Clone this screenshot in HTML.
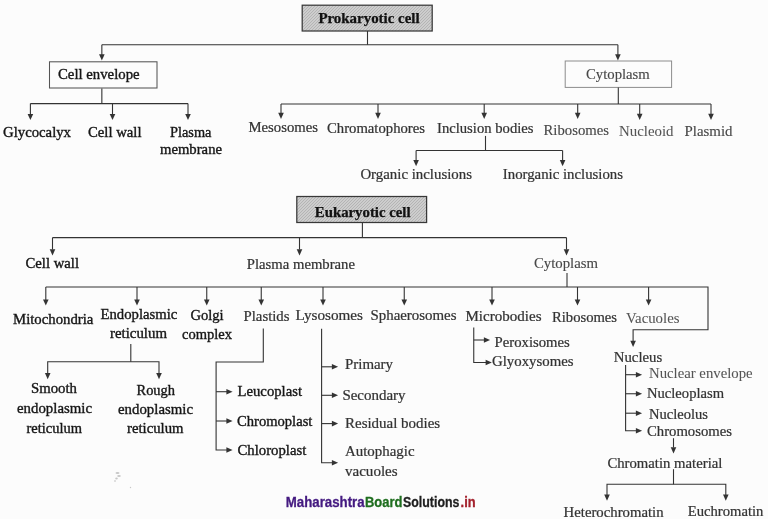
<!DOCTYPE html>
<html><head><meta charset="utf-8"><title>Cell structure</title>
<style>
html,body{margin:0;padding:0;background:#fcfcfc;}
body{width:768px;height:519px;overflow:hidden;}
svg{display:block;filter:blur(0.45px);}
text{font-family:"Liberation Serif",serif;}
.wm{font-family:"Liberation Sans",sans-serif;font-weight:bold;}
</style></head><body>
<svg width="768" height="519" viewBox="0 0 768 519">
<defs>
<pattern id="hatch" width="3" height="3" patternUnits="userSpaceOnUse">
<rect width="3" height="3" fill="#cdcdcd"/>
<path d="M0 3L3 0" stroke="#adadad" stroke-width="0.8"/>
</pattern>
</defs>
<rect width="768" height="519" fill="#fcfcfc"/>

<rect x="302.2" y="5.2" width="130" height="25.8" fill="url(#hatch)" stroke="#383838" stroke-width="1.25"/>
<rect x="296.8" y="196.5" width="129.8" height="26" fill="url(#hatch)" stroke="#383838" stroke-width="1.25"/>
<rect x="49.5" y="61.8" width="107.5" height="26.2" fill="none" stroke="#555" stroke-width="1.05"/>
<rect x="565.2" y="61" width="106.4" height="26.4" fill="none" stroke="#8c8c8c" stroke-width="1"/>
<g fill="none" stroke="#333333" stroke-width="1.1">
<polyline points="367.50,31.00 367.50,44.80"/>
<polyline points="101.85,44.80 617.90,44.80"/>
<polyline points="101.85,44.80 101.85,55.00"/>
<polyline points="617.90,44.80 617.90,55.00"/>
<polyline points="101.85,88.50 101.85,103.60"/>
<polyline points="30.40,103.60 188.00,103.60"/>
<polyline points="30.40,103.60 30.40,114.00"/>
<polyline points="112.50,103.60 112.50,114.00"/>
<polyline points="188.00,103.60 188.00,114.00"/>
<polyline points="618.30,87.40 618.30,104.00"/>
<polyline points="281.00,104.00 711.00,104.00"/>
<polyline points="281.00,104.00 281.00,113.00"/>
<polyline points="378.00,104.00 378.00,113.00"/>
<polyline points="484.20,104.00 484.20,113.00"/>
<polyline points="577.70,104.00 577.70,113.00"/>
<polyline points="639.70,104.00 639.70,114.00"/>
<polyline points="711.00,104.00 711.00,114.00"/>
<polyline points="485.50,135.90 485.50,150.50"/>
<polyline points="416.10,150.50 562.60,150.50"/>
<polyline points="416.10,150.50 416.10,160.00"/>
<polyline points="562.60,150.50 562.60,160.00"/>
<polyline points="362.40,222.50 362.40,237.60"/>
<polyline points="52.50,237.60 566.50,237.60"/>
<polyline points="52.50,237.60 52.50,249.50"/>
<polyline points="299.50,237.60 299.50,249.50"/>
<polyline points="566.50,237.60 566.50,249.50"/>
<polyline points="567.00,273.00 567.00,287.00"/>
<polyline points="45.80,287.00 708.00,287.00 708.00,329.70 633.10,329.70 633.10,341.00"/>
<polyline points="45.80,287.00 45.80,300.00"/>
<polyline points="137.00,287.00 137.00,300.00"/>
<polyline points="206.75,287.00 206.75,300.00"/>
<polyline points="261.25,287.00 261.25,300.00"/>
<polyline points="323.00,287.00 323.00,300.00"/>
<polyline points="404.25,287.00 404.25,300.00"/>
<polyline points="492.00,287.00 492.00,300.00"/>
<polyline points="577.50,287.00 577.50,300.00"/>
<polyline points="648.60,287.00 648.60,300.00"/>
<polyline points="130.80,344.10 130.80,361.80"/>
<polyline points="47.70,373.50 47.70,361.80 159.00,361.80 159.00,373.50"/>
<polyline points="263.30,328.50 263.30,362.00 216.10,362.00 216.10,450.00 227.00,450.00"/>
<polyline points="216.10,391.70 227.00,391.70"/>
<polyline points="216.10,421.00 227.00,421.00"/>
<polyline points="321.60,328.70 321.60,462.70 332.50,462.70"/>
<polyline points="321.60,366.80 332.50,366.80"/>
<polyline points="321.60,395.30 332.50,395.30"/>
<polyline points="321.60,423.60 332.50,423.60"/>
<polyline points="473.75,327.50 473.75,362.50 486.00,362.50"/>
<polyline points="473.75,340.00 484.50,340.00"/>
<polyline points="625.60,365.00 625.60,430.70 636.50,430.70"/>
<polyline points="625.60,374.70 636.50,374.70"/>
<polyline points="625.60,393.75 636.50,393.75"/>
<polyline points="625.60,413.20 636.50,413.20"/>
<polyline points="673.50,438.20 673.50,447.50"/>
<polyline points="673.50,469.20 673.50,484.30"/>
<polyline points="607.00,495.00 607.00,484.30 725.80,484.30 725.80,495.00"/>
</g>
<g fill="#333333" stroke="none">
<path d="M99.05 54.20L104.65 54.20L101.85 60.40Z"/>
<path d="M615.10 54.20L620.70 54.20L617.90 60.40Z"/>
<path d="M27.60 113.90L33.20 113.90L30.40 120.10Z"/>
<path d="M109.70 113.90L115.30 113.90L112.50 120.10Z"/>
<path d="M185.20 113.90L190.80 113.90L188.00 120.10Z"/>
<path d="M278.20 112.70L283.80 112.70L281.00 118.90Z"/>
<path d="M375.20 112.70L380.80 112.70L378.00 118.90Z"/>
<path d="M481.40 112.70L487.00 112.70L484.20 118.90Z"/>
<path d="M574.90 112.70L580.50 112.70L577.70 118.90Z"/>
<path d="M636.90 113.70L642.50 113.70L639.70 119.90Z"/>
<path d="M708.20 113.70L713.80 113.70L711.00 119.90Z"/>
<path d="M413.30 160.00L418.90 160.00L416.10 166.20Z"/>
<path d="M559.80 160.00L565.40 160.00L562.60 166.20Z"/>
<path d="M49.70 249.30L55.30 249.30L52.50 255.50Z"/>
<path d="M296.70 249.30L302.30 249.30L299.50 255.50Z"/>
<path d="M563.70 249.30L569.30 249.30L566.50 255.50Z"/>
<path d="M43.00 299.40L48.60 299.40L45.80 305.60Z"/>
<path d="M134.20 299.40L139.80 299.40L137.00 305.60Z"/>
<path d="M203.95 299.40L209.55 299.40L206.75 305.60Z"/>
<path d="M258.45 299.40L264.05 299.40L261.25 305.60Z"/>
<path d="M320.20 299.40L325.80 299.40L323.00 305.60Z"/>
<path d="M401.45 299.40L407.05 299.40L404.25 305.60Z"/>
<path d="M489.20 299.40L494.80 299.40L492.00 305.60Z"/>
<path d="M574.70 299.40L580.30 299.40L577.50 305.60Z"/>
<path d="M645.80 299.40L651.40 299.40L648.60 305.60Z"/>
<path d="M630.30 340.80L635.90 340.80L633.10 347.00Z"/>
<path d="M44.90 373.10L50.50 373.10L47.70 379.30Z"/>
<path d="M156.20 373.10L161.80 373.10L159.00 379.30Z"/>
<path d="M226.40 388.90L226.40 394.50L232.60 391.70Z"/>
<path d="M226.40 418.20L226.40 423.80L232.60 421.00Z"/>
<path d="M226.40 447.20L226.40 452.80L232.60 450.00Z"/>
<path d="M331.90 364.00L331.90 369.60L338.10 366.80Z"/>
<path d="M331.90 392.50L331.90 398.10L338.10 395.30Z"/>
<path d="M331.90 420.80L331.90 426.40L338.10 423.60Z"/>
<path d="M331.90 459.90L331.90 465.50L338.10 462.70Z"/>
<path d="M483.90 337.20L483.90 342.80L490.10 340.00Z"/>
<path d="M485.65 359.70L485.65 365.30L491.85 362.50Z"/>
<path d="M635.90 371.90L635.90 377.50L642.10 374.70Z"/>
<path d="M635.90 390.95L635.90 396.55L642.10 393.75Z"/>
<path d="M635.90 410.40L635.90 416.00L642.10 413.20Z"/>
<path d="M635.90 427.90L635.90 433.50L642.10 430.70Z"/>
<path d="M670.70 447.20L676.30 447.20L673.50 453.40Z"/>
<path d="M604.20 494.60L609.80 494.60L607.00 500.80Z"/>
<path d="M723.00 494.60L728.60 494.60L725.80 500.80Z"/>
</g>
<text x="318.40" y="22.80" font-size="14" fill="#111" font-weight="bold" textLength="101.20" lengthAdjust="spacingAndGlyphs" stroke="#111" stroke-width="0.25">Prokaryotic cell</text>
<text x="58.00" y="78.90" font-size="14" fill="#161616" font-weight="normal" textLength="81.60" lengthAdjust="spacingAndGlyphs" stroke="#161616" stroke-width="0.35">Cell envelope</text>
<text x="586.00" y="78.80" font-size="14" fill="#474747" font-weight="normal" textLength="63.80" lengthAdjust="spacingAndGlyphs" stroke="#474747" stroke-width="0.12">Cytoplasm</text>
<text x="3.00" y="136.75" font-size="14" fill="#161616" font-weight="normal" textLength="68.00" lengthAdjust="spacingAndGlyphs" stroke="#161616" stroke-width="0.35">Glycocalyx</text>
<text x="88.00" y="136.75" font-size="14" fill="#161616" font-weight="normal" textLength="53.50" lengthAdjust="spacingAndGlyphs" stroke="#161616" stroke-width="0.35">Cell wall</text>
<text x="170.00" y="136.75" font-size="14" fill="#161616" font-weight="normal" textLength="41.50" lengthAdjust="spacingAndGlyphs" stroke="#161616" stroke-width="0.35">Plasma</text>
<text x="160.00" y="153.70" font-size="14" fill="#161616" font-weight="normal" textLength="62.00" lengthAdjust="spacingAndGlyphs" stroke="#161616" stroke-width="0.35">membrane</text>
<text x="248.50" y="132.00" font-size="14" fill="#333" font-weight="normal" textLength="69.50" lengthAdjust="spacingAndGlyphs" stroke="#333" stroke-width="0.22">Mesosomes</text>
<text x="327.00" y="132.50" font-size="14" fill="#333" font-weight="normal" textLength="98.00" lengthAdjust="spacingAndGlyphs" stroke="#333" stroke-width="0.22">Chromatophores</text>
<text x="437.00" y="133.00" font-size="14" fill="#333" font-weight="normal" textLength="96.50" lengthAdjust="spacingAndGlyphs" stroke="#333" stroke-width="0.22">Inclusion bodies</text>
<text x="543.50" y="135.30" font-size="14" fill="#474747" font-weight="normal" textLength="65.50" lengthAdjust="spacingAndGlyphs" stroke="#474747" stroke-width="0.12">Ribosomes</text>
<text x="619.00" y="135.70" font-size="14" fill="#545454" font-weight="normal" textLength="54.50" lengthAdjust="spacingAndGlyphs" stroke="#545454" stroke-width="0.05">Nucleoid</text>
<text x="684.50" y="135.70" font-size="14" fill="#474747" font-weight="normal" textLength="48.00" lengthAdjust="spacingAndGlyphs" stroke="#474747" stroke-width="0.12">Plasmid</text>
<text x="360.40" y="178.50" font-size="14" fill="#333" font-weight="normal" textLength="111.60" lengthAdjust="spacingAndGlyphs" stroke="#333" stroke-width="0.22">Organic inclusions</text>
<text x="502.80" y="179.10" font-size="14" fill="#333" font-weight="normal" textLength="120.20" lengthAdjust="spacingAndGlyphs" stroke="#333" stroke-width="0.22">Inorganic inclusions</text>
<text x="314.80" y="216.90" font-size="14" fill="#111" font-weight="bold" textLength="95.80" lengthAdjust="spacingAndGlyphs" stroke="#111" stroke-width="0.25">Eukaryotic cell</text>
<text x="25.50" y="268.00" font-size="14" fill="#161616" font-weight="normal" textLength="53.50" lengthAdjust="spacingAndGlyphs" stroke="#161616" stroke-width="0.35">Cell wall</text>
<text x="246.80" y="268.75" font-size="14" fill="#333" font-weight="normal" textLength="108.20" lengthAdjust="spacingAndGlyphs" stroke="#333" stroke-width="0.22">Plasma membrane</text>
<text x="534.00" y="268.00" font-size="14" fill="#474747" font-weight="normal" textLength="64.00" lengthAdjust="spacingAndGlyphs" stroke="#474747" stroke-width="0.12">Cytoplasm</text>
<text x="13.00" y="323.90" font-size="14" fill="#161616" font-weight="normal" textLength="80.40" lengthAdjust="spacingAndGlyphs" stroke="#161616" stroke-width="0.35">Mitochondria</text>
<text x="100.50" y="318.75" font-size="14" fill="#161616" font-weight="normal" textLength="76.90" lengthAdjust="spacingAndGlyphs" stroke="#161616" stroke-width="0.35">Endoplasmic</text>
<text x="110.00" y="338.00" font-size="14" fill="#161616" font-weight="normal" textLength="57.00" lengthAdjust="spacingAndGlyphs" stroke="#161616" stroke-width="0.35">reticulum</text>
<text x="190.40" y="319.60" font-size="14" fill="#161616" font-weight="normal" textLength="33.20" lengthAdjust="spacingAndGlyphs" stroke="#161616" stroke-width="0.35">Golgi</text>
<text x="182.00" y="338.75" font-size="14" fill="#161616" font-weight="normal" textLength="50.00" lengthAdjust="spacingAndGlyphs" stroke="#161616" stroke-width="0.35">complex</text>
<text x="243.50" y="320.50" font-size="14" fill="#333" font-weight="normal" textLength="46.00" lengthAdjust="spacingAndGlyphs" stroke="#333" stroke-width="0.22">Plastids</text>
<text x="295.50" y="320.00" font-size="14" fill="#333" font-weight="normal" textLength="67.50" lengthAdjust="spacingAndGlyphs" stroke="#333" stroke-width="0.22">Lysosomes</text>
<text x="370.50" y="319.50" font-size="14" fill="#333" font-weight="normal" textLength="86.00" lengthAdjust="spacingAndGlyphs" stroke="#333" stroke-width="0.22">Sphaerosomes</text>
<text x="465.50" y="320.75" font-size="14" fill="#333" font-weight="normal" textLength="76.00" lengthAdjust="spacingAndGlyphs" stroke="#333" stroke-width="0.22">Microbodies</text>
<text x="552.00" y="322.00" font-size="14" fill="#333" font-weight="normal" textLength="65.00" lengthAdjust="spacingAndGlyphs" stroke="#333" stroke-width="0.22">Ribosomes</text>
<text x="626.00" y="323.00" font-size="14" fill="#545454" font-weight="normal" textLength="53.50" lengthAdjust="spacingAndGlyphs" stroke="#545454" stroke-width="0.05">Vacuoles</text>
<text x="31.00" y="393.25" font-size="14" fill="#161616" font-weight="normal" textLength="46.00" lengthAdjust="spacingAndGlyphs" stroke="#161616" stroke-width="0.35">Smooth</text>
<text x="17.00" y="412.50" font-size="14" fill="#161616" font-weight="normal" textLength="75.00" lengthAdjust="spacingAndGlyphs" stroke="#161616" stroke-width="0.35">endoplasmic</text>
<text x="26.50" y="432.50" font-size="14" fill="#161616" font-weight="normal" textLength="55.50" lengthAdjust="spacingAndGlyphs" stroke="#161616" stroke-width="0.35">reticulum</text>
<text x="136.50" y="394.50" font-size="14" fill="#161616" font-weight="normal" textLength="38.50" lengthAdjust="spacingAndGlyphs" stroke="#161616" stroke-width="0.35">Rough</text>
<text x="118.00" y="413.50" font-size="14" fill="#161616" font-weight="normal" textLength="75.00" lengthAdjust="spacingAndGlyphs" stroke="#161616" stroke-width="0.35">endoplasmic</text>
<text x="127.00" y="433.00" font-size="14" fill="#161616" font-weight="normal" textLength="56.50" lengthAdjust="spacingAndGlyphs" stroke="#161616" stroke-width="0.35">reticulum</text>
<text x="237.50" y="396.10" font-size="14" fill="#161616" font-weight="normal" textLength="64.50" lengthAdjust="spacingAndGlyphs" stroke="#161616" stroke-width="0.35">Leucoplast</text>
<text x="237.00" y="425.80" font-size="14" fill="#161616" font-weight="normal" textLength="75.40" lengthAdjust="spacingAndGlyphs" stroke="#161616" stroke-width="0.35">Chromoplast</text>
<text x="237.40" y="454.60" font-size="14" fill="#161616" font-weight="normal" textLength="69.00" lengthAdjust="spacingAndGlyphs" stroke="#161616" stroke-width="0.35">Chloroplast</text>
<text x="345.00" y="369.40" font-size="14" fill="#333" font-weight="normal" textLength="48.00" lengthAdjust="spacingAndGlyphs" stroke="#333" stroke-width="0.22">Primary</text>
<text x="342.40" y="400.10" font-size="14" fill="#333" font-weight="normal" textLength="63.20" lengthAdjust="spacingAndGlyphs" stroke="#333" stroke-width="0.22">Secondary</text>
<text x="345.00" y="427.80" font-size="14" fill="#333" font-weight="normal" textLength="95.20" lengthAdjust="spacingAndGlyphs" stroke="#333" stroke-width="0.22">Residual bodies</text>
<text x="345.00" y="456.20" font-size="14" fill="#333" font-weight="normal" textLength="69.60" lengthAdjust="spacingAndGlyphs" stroke="#333" stroke-width="0.22">Autophagic</text>
<text x="345.00" y="475.60" font-size="14" fill="#333" font-weight="normal" textLength="52.60" lengthAdjust="spacingAndGlyphs" stroke="#333" stroke-width="0.22">vacuoles</text>
<text x="494.60" y="347.10" font-size="14" fill="#333" font-weight="normal" textLength="75.20" lengthAdjust="spacingAndGlyphs" stroke="#333" stroke-width="0.22">Peroxisomes</text>
<text x="492.00" y="366.25" font-size="14" fill="#333" font-weight="normal" textLength="81.50" lengthAdjust="spacingAndGlyphs" stroke="#333" stroke-width="0.22">Glyoxysomes</text>
<text x="613.80" y="361.70" font-size="14" fill="#333" font-weight="normal" textLength="48.40" lengthAdjust="spacingAndGlyphs" stroke="#333" stroke-width="0.22">Nucleus</text>
<text x="649.00" y="378.00" font-size="14" fill="#545454" font-weight="normal" textLength="103.60" lengthAdjust="spacingAndGlyphs" stroke="#545454" stroke-width="0.05">Nuclear envelope</text>
<text x="647.00" y="397.80" font-size="14" fill="#333" font-weight="normal" textLength="77.00" lengthAdjust="spacingAndGlyphs" stroke="#333" stroke-width="0.22">Nucleoplasm</text>
<text x="649.00" y="418.80" font-size="14" fill="#333" font-weight="normal" textLength="59.00" lengthAdjust="spacingAndGlyphs" stroke="#333" stroke-width="0.22">Nucleolus</text>
<text x="647.00" y="436.30" font-size="14" fill="#333" font-weight="normal" textLength="85.00" lengthAdjust="spacingAndGlyphs" stroke="#333" stroke-width="0.22">Chromosomes</text>
<text x="607.40" y="467.50" font-size="14" fill="#333" font-weight="normal" textLength="115.00" lengthAdjust="spacingAndGlyphs" stroke="#333" stroke-width="0.22">Chromatin material</text>
<text x="563.60" y="516.50" font-size="14" fill="#333" font-weight="normal" textLength="100.00" lengthAdjust="spacingAndGlyphs" stroke="#333" stroke-width="0.22">Heterochromatin</text>
<text x="687.80" y="515.80" font-size="14" fill="#333" font-weight="normal" textLength="75.60" lengthAdjust="spacingAndGlyphs" stroke="#333" stroke-width="0.22">Euchromatin</text>
<text class="wm" x="285.80" y="506.9" font-size="14.5" fill="#441a80" stroke="#441a80" stroke-width="0.3" textLength="78.80" lengthAdjust="spacingAndGlyphs">Maharashtra</text>
<text class="wm" x="365.00" y="506.9" font-size="14.5" fill="#1f6e1f" stroke="#1f6e1f" stroke-width="0.3" textLength="37.40" lengthAdjust="spacingAndGlyphs">Board</text>
<text class="wm" x="403.00" y="506.9" font-size="14.5" fill="#1e1e1e" stroke="#1e1e1e" stroke-width="0.3" textLength="56.40" lengthAdjust="spacingAndGlyphs">Solutions</text>
<text class="wm" x="460.60" y="506.9" font-size="14.5" fill="#a3202c" stroke="#a3202c" stroke-width="0.3" textLength="15.00" lengthAdjust="spacingAndGlyphs">.in</text>
<g fill="#666" opacity="0.35"><ellipse cx="117.5" cy="473" rx="2" ry="1.1"/><ellipse cx="119" cy="476" rx="1.8" ry="1"/><ellipse cx="116.5" cy="478.5" rx="1.3" ry="0.9"/><ellipse cx="115" cy="481" rx="1" ry="0.7"/><circle cx="130.5" cy="487.5" r="0.7"/></g>
</svg>
</body></html>
